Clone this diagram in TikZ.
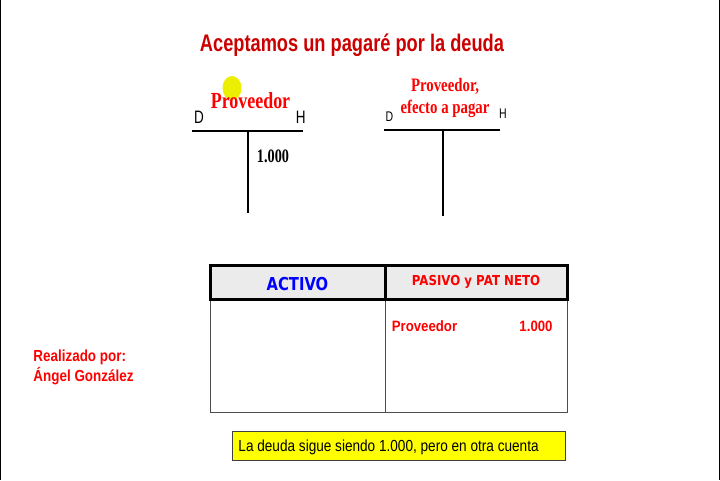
\documentclass[tikz,border=0pt]{standalone}
\usepackage{fontspec}
\setmainfont{Liberation Serif}
\setsansfont{Liberation Sans}
\newfontfamily\heavyfont{DejaVu Sans}
\definecolor{cdarkred}{HTML}{CC0000}
\definecolor{cred}{HTML}{FF0000}
\definecolor{cblue}{HTML}{0000FF}
\definecolor{lightgray}{HTML}{EBEBEB}
\definecolor{cyellow}{HTML}{FFFF00}
\definecolor{cmark}{HTML}{EEEE00}

\begin{document}
\begin{tikzpicture}[x=1pt, y=-1pt,
  lbl/.style={inner sep=0pt, anchor=base},
  tline/.style={line width=2.3pt},
  ttitle/.style={lbl, xscale=0.78, text=cred, font=\rmfamily\bfseries\fontsize{#1}{#1}\selectfont},
  dh/.style={lbl, xscale=0.75, font=\sffamily\fontsize{#1}{#1}\selectfont},
  redsans/.style={lbl, text=cred, font=\sffamily\bfseries\fontsize{#1}{#1}\selectfont},
  header/.style={lbl, font=\heavyfont\bfseries\fontsize{#1}{#1}\selectfont}]
  \useasboundingbox (0,0) rectangle (720,480);
  \fill[white] (0,0) rectangle (720,480);
  \draw[line width=1pt] (0.5,0) -- (0.5,480);
  \draw[line width=1pt] (719.5,0) -- (719.5,480);

  % titulo
  \node[lbl, xscale=0.76, text=cdarkred, font=\sffamily\bfseries\fontsize{24}{24}\selectfont]
    (titulo) at (352,51.7) {Aceptamos un pagaré por la deuda};

  % cuenta Proveedor
  \fill[cmark] (232,88) ellipse [x radius=9.5pt, y radius=12pt];
  \draw[tline] (192,131) -- (302.5,131);
  \draw[tline] (248,131) -- (248,213);
  \node[ttitle=23] (prov) at (250.5,108.3) {Proveedor};
  \node[dh=18] (provD) at (199,123) {D};
  \node[dh=18] (provH) at (300.7,123) {H};
  \node[lbl, xscale=0.75, font=\rmfamily\bfseries\fontsize{19}{19}\selectfont]
    (provH1) at (273,162.7) {1.000};

  % cuenta Proveedor, efecto a pagar
  \draw[tline] (384,130) -- (500,130);
  \draw[tline] (443,130) -- (443,216);
  \node[ttitle=19] (efecto1) at (445,91.7) {Proveedor,};
  \node[ttitle=19] (efecto2) at (445,113.3) {efecto a pagar};
  \node[dh=14] (efectoD) at (389.3,121.7) {D};
  \node[dh=14] (efectoH) at (503,118.3) {H};

  % balance
  \draw[black!70] (210,300) rectangle (567,412);
  \draw[black!70] (385,300) -- (385,412);
  \draw[line width=3pt, fill=lightgray] (210.5,265) rectangle (567,299.5);
  \draw[line width=3pt] (385,265) -- (385,299.5);
  \node[header=17.8, xscale=0.83, text=cblue] (activo) at (297.5,290) {ACTIVO};
  \node[header=13.7, xscale=0.86, text=cred] (pasivo) at (476,285) {PASIVO y PAT NETO};
  \node[redsans=15, xscale=0.88, anchor=base west] (bprov) at (391.7,331.7) {Proveedor};
  \node[redsans=15, xscale=0.88, anchor=base east] (bprovH) at (552.7,331.3) {1.000};

  % autor
  \node[redsans=16, xscale=0.84, anchor=base west] (autor1) at (33.3,361.7) {Realizado por:};
  \node[redsans=16, xscale=0.84, anchor=base west] (autor2) at (33.3,381.7) {Ángel González};

  % nota
  \draw[black!75, fill=cyellow] (232,431) rectangle (565,460);
  \node[lbl, anchor=base west, xscale=0.85, font=\sffamily\fontsize{16}{16}\selectfont]
    (nota) at (238.3,451.7) {La deuda sigue siendo 1.000, pero en otra cuenta};
\end{tikzpicture}
\end{document}
